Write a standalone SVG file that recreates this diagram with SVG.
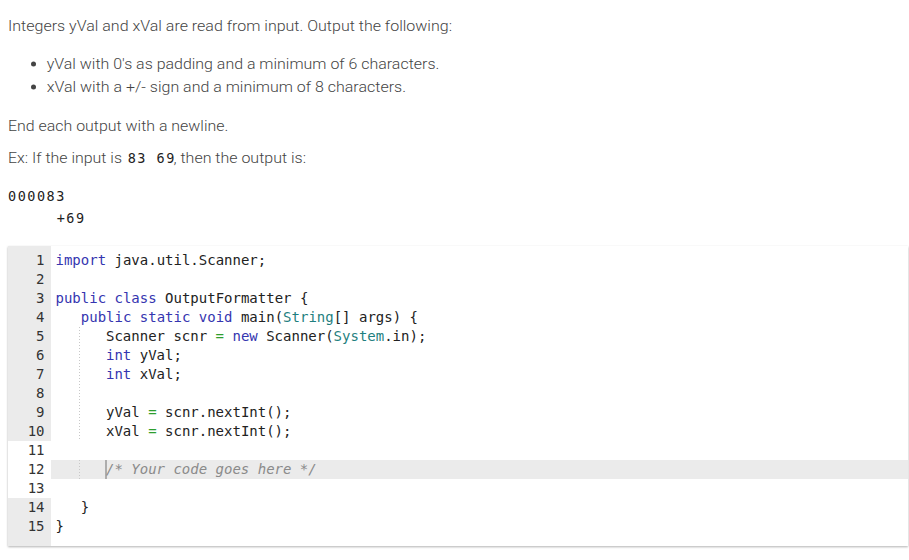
<svg xmlns="http://www.w3.org/2000/svg" width="909" height="560" viewBox="0 0 909 560">
<style>
.p{font-family:Roboto,"Liberation Sans",sans-serif;font-size:15px;font-weight:300;fill:#444}
.m{font-family:"DejaVu Sans Mono","Liberation Mono",monospace;font-size:14px;fill:#222}
.o{font-family:"DejaVu Sans Mono","Liberation Mono",monospace;font-size:13.5px;letter-spacing:1.5px;fill:#222}
.ln{font-family:"DejaVu Sans Mono","Liberation Mono",monospace;font-size:14px;fill:#333;text-anchor:end}
.k{fill:#3535b0}
.t{fill:#1f7f80}
.g{fill:#2e9e2e}
.c{fill:#8a8a8a;font-style:italic}
</style>
<defs>
<filter id="sh" x="-2%" y="-5%" width="104%" height="112%">
<feDropShadow dx="0" dy="1" stdDeviation="1.2" flood-color="#000" flood-opacity="0.3"/>
</filter>
</defs>
<rect width="909" height="560" fill="#fff"/>
<g id="prompt">
<text class="p" x="8" y="30.5" textLength="444" lengthAdjust="spacingAndGlyphs">Integers yVal and xVal are read from input. Output the following:</text>
<circle cx="33.5" cy="64" r="2.5" fill="#444"/>
<text class="p" x="46.7" y="69" textLength="392.6" lengthAdjust="spacingAndGlyphs">yVal with 0's as padding and a minimum of 6 characters.</text>
<circle cx="33.5" cy="87" r="2.5" fill="#444"/>
<text class="p" x="46.7" y="92" textLength="359.3" lengthAdjust="spacingAndGlyphs">xVal with a +/- sign and a minimum of 8 characters.</text>
<text class="p" x="8" y="130.5" textLength="220.3" lengthAdjust="spacingAndGlyphs">End each output with a newline.</text>
<text class="p" x="8" y="163.3" textLength="114" lengthAdjust="spacingAndGlyphs">Ex: If the input is</text>
<text class="o" x="127.7" y="163.3">83 69</text>
<text class="p" x="173.5" y="163.3" textLength="132.5" lengthAdjust="spacingAndGlyphs">, then the output is:</text>
</g>
<g id="output">
<text class="o" x="8" y="201">000083</text>
<text class="o" x="56.7" y="222.5">+69</text>
</g>
<g id="editor">
<rect x="8" y="246" width="900" height="300" fill="#fff" filter="url(#sh)"/>
<rect x="8" y="246" width="43" height="195" fill="#ebebeb"/>
<rect x="8" y="498" width="43" height="48" fill="#ebebeb"/>
<rect x="51" y="460" width="857" height="19" fill="#ebebeb"/>
<line x1="79.5" y1="327" x2="79.5" y2="441" stroke="#c8c8c8" stroke-width="1" stroke-dasharray="1,2"/>
<line x1="79.5" y1="460" x2="79.5" y2="479" stroke="#c8c8c8" stroke-width="1" stroke-dasharray="1,2"/>
<line x1="106" y1="460" x2="106" y2="479" stroke="#999" stroke-width="1.5"/>
<g id="linenumbers">
<text class="ln" x="44.5" y="265">1</text>
<text class="ln" x="44.5" y="284">2</text>
<text class="ln" x="44.5" y="303">3</text>
<text class="ln" x="44.5" y="322">4</text>
<text class="ln" x="44.5" y="341">5</text>
<text class="ln" x="44.5" y="360">6</text>
<text class="ln" x="44.5" y="379">7</text>
<text class="ln" x="44.5" y="398">8</text>
<text class="ln" x="44.5" y="417">9</text>
<text class="ln" x="44.5" y="436">10</text>
<text class="ln" x="44.5" y="455">11</text>
<text class="ln" x="44.5" y="474">12</text>
<text class="ln" x="44.5" y="493">13</text>
<text class="ln" x="44.5" y="512">14</text>
<text class="ln" x="44.5" y="531">15</text>
</g>
<g id="code" xml:space="preserve">
<text class="m" x="55.5" y="265"><tspan class="k">import</tspan> java.util.Scanner;</text>
<text class="m" x="55.5" y="303"><tspan class="k">public class</tspan> OutputFormatter {</text>
<text class="m" x="80.8" y="322"><tspan class="k">public static void</tspan> main(<tspan class="t">String</tspan>[] args) {</text>
<text class="m" x="106" y="341">Scanner scnr <tspan class="g">=</tspan> <tspan class="k">new</tspan> Scanner(<tspan class="t">System</tspan>.in);</text>
<text class="m" x="106" y="360"><tspan class="k">int</tspan> yVal;</text>
<text class="m" x="106" y="379"><tspan class="k">int</tspan> xVal;</text>
<text class="m" x="106" y="417">yVal <tspan class="g">=</tspan> scnr.nextInt();</text>
<text class="m" x="106" y="436">xVal <tspan class="g">=</tspan> scnr.nextInt();</text>
<text class="m c" x="106" y="474">/* Your code goes here */</text>
<text class="m" x="80.8" y="512">}</text>
<text class="m" x="55.5" y="531">}</text>
</g>
</g>
</svg>
